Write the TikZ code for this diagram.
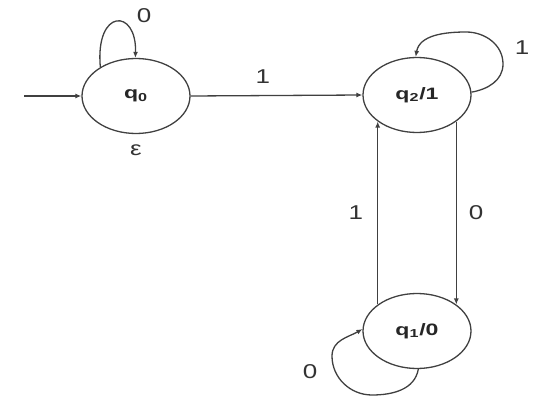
\documentclass[tikz,border=0pt]{standalone}
\usepackage{fontspec}
\usepackage{graphicx}
\setmainfont{Liberation Sans}
\usetikzlibrary{shapes.geometric,arrows.meta}
\newcommand{\wlab}[1]{\scalebox{1.3}[1]{#1}}
\newcommand{\wst}[1]{\scalebox{1.4}[1]{\bfseries #1}}
\tikzset{
  state/.style={ellipse,draw=black!75,line width=1.3pt,inner sep=0pt,minimum width=108pt,minimum height=75pt,font=\fontsize{16.5}{18}\selectfont,text=black!85},
  edge/.style={draw=black!75,line width=1.3pt,-{Latex[length=6pt,width=5pt]}},
  lab/.style={font=\fontsize{20}{22}\selectfont,text=black!80,inner sep=0pt}
}
\begin{document}
\begin{tikzpicture}[x=1pt,y=-1pt]
\useasboundingbox (0,0) rectangle (548,414);
\node[state] (q0) at (136,96) {\wst{q\textsubscript{0}}};
\node[state] (q2) at (417,95) {\wst{q\textsubscript{2}/1}};
\node[state] (q1) at (417,331) {\wst{q\textsubscript{1}/0}};
\coordinate (start) at (24,96);
\draw[edge] (start) -- (q0);
\draw[edge] (q0.east) -- node[lab,pos=0.42,above=11pt] (l01) {\wlab{1}} (q2.west);
\draw[edge] (q0.141) .. controls (95,8) and (137,8) .. (q0.91);
\node[lab] (l00) at (144,16) {\wlab{0}};
\node[lab] (leps) at (136,150) {\wlab{ε}};
\draw[edge] (q2.3) to[out=10,in=-90] (503,64) to[out=90,in=0] (466,32) to[out=180,in=80] (q2.92);
\node[lab] (l22) at (522,48) {\wlab{1}};
\draw[edge] (q1.146) -- node[lab,left=14pt] (l12) {\wlab{1}} (q2.214);
\draw[edge] (q2.326) -- node[lab,right=12pt] (l21) {\wlab{0}} (q1.34);
\draw[edge] (q1.272) to[out=-100,in=0] (372,395) to[out=180,in=-90] (332,356) to[out=90,in=210] (q1.178);
\node[lab] (l11) at (310,372) {\wlab{0}};
\end{tikzpicture}
\end{document}
